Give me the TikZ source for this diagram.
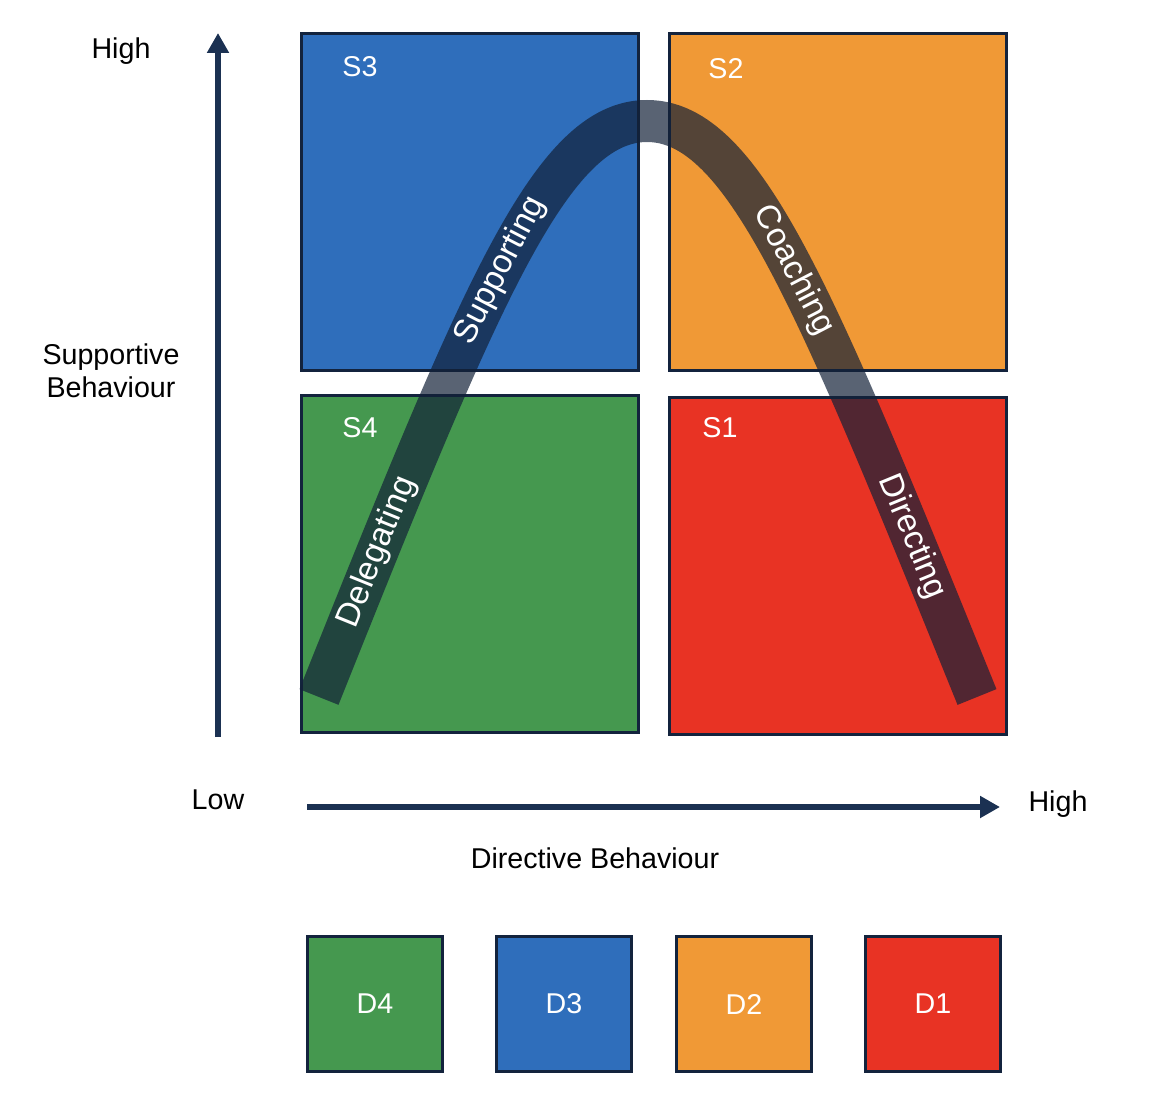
\documentclass[tikz,border=0pt]{standalone}
\usepackage{fontspec}
\setmainfont{Liberation Sans}
\usetikzlibrary{arrows.meta}
\definecolor{blueq}{RGB}{47,110,187}
\definecolor{orangeq}{RGB}{240,153,54}
\definecolor{greenq}{RGB}{69,152,79}
\definecolor{redq}{RGB}{232,51,36}
\definecolor{boxnavy}{RGB}{19,35,61}
\definecolor{arrownavy}{RGB}{27,49,82}
\definecolor{bandnavy}{RGB}{18,33,56}
\tikzstyle{quadrant} = [rectangle, minimum size=6.74cm, draw=boxnavy, line width=1.6pt]
\tikzstyle{readiness} = [rectangle, minimum size=2.7cm, draw=boxnavy, line width=1.6pt, text=white, font=\fontsize{16.3}{19}\selectfont]
\tikzstyle{boxname} = [text=white, font=\fontsize{16.3}{19}\selectfont]
\tikzstyle{axistext} = [text=black, align=center, font=\fontsize{16.3}{19}\selectfont]
\tikzstyle{axis} = [line width=3.4pt, draw=arrownavy, -{Triangle[length=0.4cm, width=0.42cm]}]
\tikzstyle{band} = [line width=0.84cm, draw=bandnavy, draw opacity=0.7]
\tikzstyle{stage} = [sloped, text=white, font=\fontsize{19}{22}\selectfont]

\begin{document}
\begin{tikzpicture}[x=0.02cm, y=-0.02cm]
\useasboundingbox (0,0) rectangle (1164,1102);

\node (s3) [quadrant, fill=blueq] at (470,202) {};
\node (s2) [quadrant, fill=orangeq] at (838,202) {};
\node (s4) [quadrant, fill=greenq] at (470,564) {};
\node (s1) [quadrant, fill=redq] at (838,566) {};
%
\node (s3name) [boxname] at (360,67) {S3};
\node (s2name) [boxname] at (726,69) {S2};
\node (s4name) [boxname] at (360,428) {S4};
\node (s1name) [boxname] at (720,428) {S1};
%
\coordinate (start) at (319,697);
\coordinate (peak) at (647,121);
\coordinate (finish) at (977,697);
\draw [band] (start) .. controls (479,297) and (550,121) ..
		node [stage, pos=0.13] {Delegating}
		node [stage, pos=0.48] {Supporting} (peak)
	.. controls (744,121) and (815,297) ..
		node [stage, pos=0.52] {Coaching}
		node [stage, pos=0.855] {Directing} (finish);
%
\coordinate (ylow) at (218,737);
\coordinate (yhigh) at (218,33);
\coordinate (xlow) at (307,807);
\coordinate (xhigh) at (1000,807);
\draw [axis] (ylow) -- (yhigh);
\draw [axis] (xlow) -- (xhigh);
%
\node (high) [axistext] at (121,51) {High};
\node (low) [axistext] at (218,800) {Low};
\node (highx) [axistext] at (1058,804) {High};
\node (support) [axistext] at (111,371) {Supportive\\Behaviour};
\node (direct) [axistext] at (595,858) {Directive Behaviour};
%
\node (d4) [readiness, fill=greenq] at (375,1004) {D4};
\node (d3) [readiness, fill=blueq] at (564,1004) {D3};
\node (d2) [readiness, fill=orangeq] at (744,1004) {D2};
\node (d1) [readiness, fill=redq] at (933,1004) {D1};
\end{tikzpicture}
\end{document}
